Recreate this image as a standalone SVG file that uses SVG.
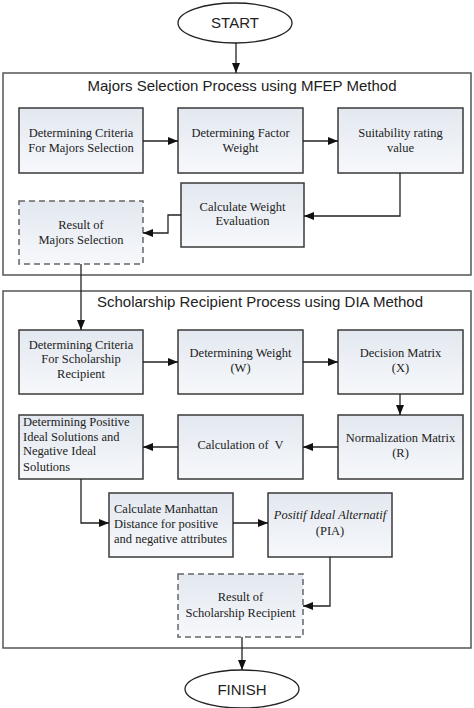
<svg xmlns="http://www.w3.org/2000/svg" width="474" height="708" viewBox="0 0 474 708">
<defs>
<linearGradient id="g" x1="0" y1="0" x2="0" y2="1">
<stop offset="0" stop-color="#e3e8f0"/>
<stop offset="1" stop-color="#f6f8fb"/>
</linearGradient>
<marker id="ah" viewBox="0 0 10 8" refX="10" refY="4" markerWidth="10" markerHeight="8" markerUnits="userSpaceOnUse" orient="auto">
<path d="M0,0 L10,4 L0,8 Z" fill="#111"/>
</marker>
</defs>
<style>
.box{fill:url(#g);stroke:#3a3a3a;stroke-width:1.5}
.dash{fill:url(#g);stroke:#666;stroke-width:1.5;stroke-dasharray:6 4}
.outer{fill:#fff;stroke:#555;stroke-width:1.5}
.term{fill:#fff;stroke:#222;stroke-width:1.3}
.t{font-family:"Liberation Serif","Times New Roman",serif;font-size:12.5px;fill:#222;text-anchor:middle}
.tl{font-family:"Liberation Serif","Times New Roman",serif;font-size:12.5px;fill:#222}
.h{font-family:"Liberation Sans",Arial,sans-serif;font-size:15px;fill:#222;text-anchor:middle}
.c{fill:none;stroke:#222;stroke-width:1.3;marker-end:url(#ah)}
</style>
<rect width="474" height="708" fill="#fff"/>

<g id="group-mfep">
<rect class="outer" x="3" y="73" width="468" height="202"/>
<text class="h" x="242" y="91">Majors Selection Process using MFEP Method</text>
</g>
<g id="group-dia">
<rect class="outer" x="3" y="291" width="468" height="357"/>
<text class="h" x="260" y="307">Scholarship Recipient Process using DIA Method</text>
</g>

<g id="start">
<ellipse class="term" cx="235" cy="23" rx="57" ry="20"/>
<text class="h" x="235" y="28">START</text>
</g>

<g id="n-criteria-majors">
<rect class="box" x="19" y="108" width="124" height="65"/>
<text class="t" x="81" y="137">Determining Criteria</text>
<text class="t" x="81" y="152">For Majors Selection</text>
</g>
<g id="n-factor-weight">
<rect class="box" x="178" y="108" width="125" height="65"/>
<text class="t" x="240.5" y="137">Determining Factor</text>
<text class="t" x="240.5" y="152">Weight</text>
</g>
<g id="n-suitability">
<rect class="box" x="338" y="108" width="125" height="65"/>
<text class="t" x="400.5" y="137">Suitability rating</text>
<text class="t" x="400.5" y="152">value</text>
</g>
<g id="n-calc-weight">
<rect class="box" x="181" y="183" width="123" height="64"/>
<text class="t" x="242.5" y="211">Calculate Weight</text>
<text class="t" x="242.5" y="225">Evaluation</text>
</g>
<g id="n-result-majors">
<rect class="dash" x="19" y="201" width="124" height="63"/>
<text class="t" x="81" y="229">Result of</text>
<text class="t" x="81" y="244">Majors Selection</text>
</g>

<g id="n-criteria-scholar">
<rect class="box" x="19" y="330" width="124" height="64"/>
<text class="t" x="81" y="349">Determining Criteria</text>
<text class="t" x="81" y="363">For Scholarship</text>
<text class="t" x="81" y="378">Recipient</text>
</g>
<g id="n-weight-w">
<rect class="box" x="178" y="330" width="125" height="64"/>
<text class="t" x="240.5" y="357">Determining Weight</text>
<text class="t" x="240.5" y="372">(W)</text>
</g>
<g id="n-decision">
<rect class="box" x="338" y="330" width="125" height="64"/>
<text class="t" x="400.5" y="357">Decision Matrix</text>
<text class="t" x="400.5" y="372">(X)</text>
</g>
<g id="n-normalization">
<rect class="box" x="338" y="415" width="125" height="64"/>
<text class="t" x="400.5" y="442">Normalization Matrix</text>
<text class="t" x="400.5" y="457">(R)</text>
</g>
<g id="n-calc-v">
<rect class="box" x="178" y="415" width="125" height="64"/>
<text class="t" x="240.5" y="449" xml:space="preserve">Calculation of  V</text>
</g>
<g id="n-ideal">
<rect class="box" x="19" y="415" width="124" height="64"/>
<text class="tl" x="23" y="426">Determining Positive</text>
<text class="tl" x="23" y="441">Ideal Solutions and</text>
<text class="tl" x="23" y="455">Negative Ideal</text>
<text class="tl" x="23" y="471">Solutions</text>
</g>
<g id="n-manhattan">
<rect class="box" x="109" y="493" width="124" height="64"/>
<text class="tl" x="114" y="513">Calculate Manhattan</text>
<text class="tl" x="114" y="528">Distance for positive</text>
<text class="tl" x="114" y="543">and negative attributes</text>
</g>
<g id="n-pia">
<rect class="box" x="268" y="493" width="124" height="64"/>
<text class="t" x="330" y="519" font-style="italic">Positif Ideal Alternatif</text>
<text class="t" x="330" y="535">(PIA)</text>
</g>
<g id="n-result-scholar">
<rect class="dash" x="178" y="574" width="125" height="63"/>
<text class="t" x="240.5" y="601">Result of</text>
<text class="t" x="240.5" y="617">Scholarship Recipient</text>
</g>

<g id="finish">
<ellipse class="term" cx="242" cy="689" rx="57" ry="19"/>
<text class="h" x="242" y="695">FINISH</text>
</g>

<g id="connectors">
<path class="c" d="M236,43 V73"/>
<path class="c" d="M143,141 H178"/>
<path class="c" d="M303,141 H338"/>
<path class="c" d="M400,173 V216 H304"/>
<path class="c" d="M181,215 H168 V233 H143"/>
<path class="c" d="M81,264 V330"/>
<path class="c" d="M143,362 H178"/>
<path class="c" d="M303,362 H338"/>
<path class="c" d="M400,394 V415"/>
<path class="c" d="M338,447 H303"/>
<path class="c" d="M178,447 H143"/>
<path class="c" d="M81,479 V523 H109"/>
<path class="c" d="M233,523 H268"/>
<path class="c" d="M330,557 V606 H303"/>
<path class="c" d="M242,637 V670"/>
</g>
</svg>
